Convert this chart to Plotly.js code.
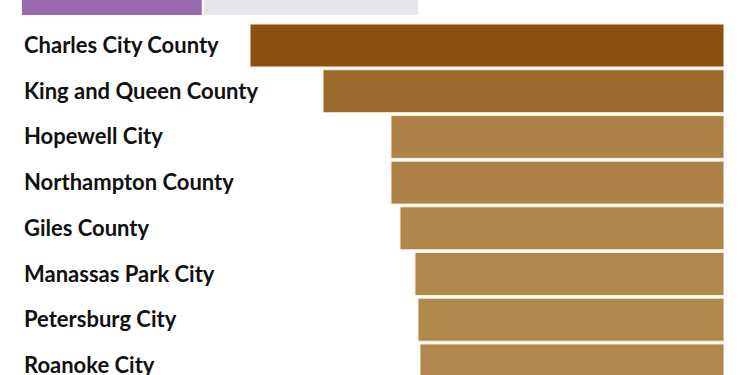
<!DOCTYPE html>
<html>
<head>
<meta charset="utf-8">
<script src="https://cdn.plot.ly/plotly-3.0.1.min.js"></script>
<style>html,body{margin:0;padding:0;background:#fff;}#chart{width:750px;height:375px;}</style>
</head>
<body>
<div id="chart"></div>
<script>
const categories = ["Charles City County","King and Queen County","Hopewell City","Northampton County","Giles County","Manassas Park City","Petersburg City","Roanoke City"];
const values = [47.4, 40.1, 33.3, 33.3, 32.4, 30.9, 30.6, 30.4];
const barColors = ["#8B520F","#9D6A2D","#AE8247","#AE8247","#AF8549","#B0874C","#B0884E","#B0884E"];

const idx = categories.map((c,i)=>i);
const trace = {
  type: "bar",
  orientation: "h",
  y: idx,
  x: values,
  marker: {color: barColors, line: {color: "#FBEFE0", width: 1}},
  width: 0.94,
  hoverinfo: "skip"
};
const annotations = categories.map((c,i)=>({
  xref: "paper", yref: "y", x: 0, y: i, xanchor: "left", yanchor: "middle",
  xshift: -2, yshift: 1,
  text: c, showarrow: false,
  font: {family: "Lato", size: 22, color: "#111111", weight: 700}
}));
const layout = {
  width: 750, height: 375,
  margin: {l: 24, r: 26, t: 0, b: 0},
  paper_bgcolor: "#fff", plot_bgcolor: "#fff",
  showlegend: false,
  xaxis: {range: [70, 0], visible: false, fixedrange: true},
  yaxis: {range: [7.21, -0.996], visible: false, fixedrange: true},
  annotations: annotations,
  shapes: [
    {type: "rect", xref: "paper", yref: "paper", x0: -0.003, x1: 0.254, y0: 0.96, y1: 1.02, fillcolor: "#9B69B2", line: {width: 0}},
    {type: "rect", xref: "paper", yref: "paper", x0: 0.257, x1: 0.563, y0: 0.96, y1: 1.02, fillcolor: "#E6E6EA", line: {width: 0}}
  ]
};
Plotly.newPlot("chart", [trace], layout, {displayModeBar: false, staticPlot: true});
</script>
</body>
</html>
